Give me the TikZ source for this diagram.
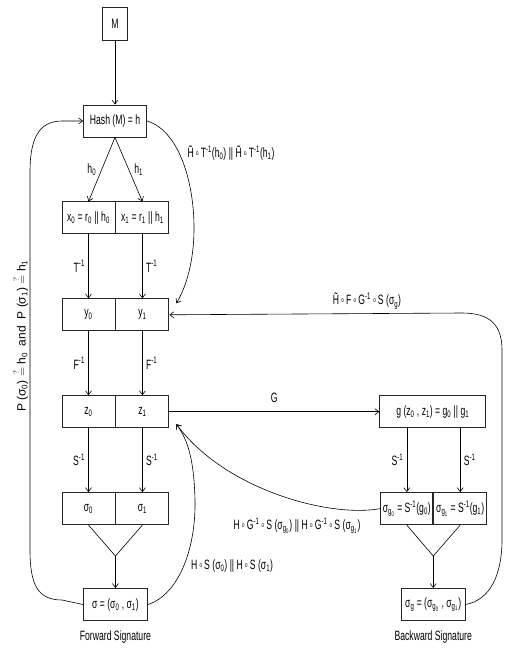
\documentclass[tikz,border=0pt]{standalone}
\usepackage{fontspec}
\usepackage{amsmath}
\setmainfont{Liberation Sans}[FakeStretch=0.64]
\newfontfamily\rotfont{Liberation Sans}
\usetikzlibrary{arrows.meta,positioning}

\newcommand\Ht{H^^^^0303}
\newcommand\cmp{\,\raisebox{.3ex}{\scriptsize o}\,}
\newcommand\inv{\textsuperscript{-1}}
\newcommand\sub[1]{\textsubscript{#1}}

\begin{document}
\begin{tikzpicture}[
		x=1pt, y=-1pt,
		node distance=64pt,
		font=\fontsize{13.5}{15}\selectfont,
		arrow/.style={-{Straight Barb[length=4pt,width=6pt]}, line width=0.6pt},
		link/.style={line width=0.6pt},
		block/.style={draw=black!85, line width=0.9pt, minimum height=32pt, minimum width=53pt, inner sep=1pt, align=center},
	]
		\useasboundingbox (0,0) rectangle (519,655);

		% forward signature
		\node (hash) [block, minimum width=63pt] at (115,121) {Hash (M) = h};
		\node (msg) [block, minimum width=25pt, minimum height=33pt, above=of hash] {M};
		\node (x0) [block, below=of hash, xshift=-26.5pt] {x\sub0 = r\sub0 || h\sub0};
		\node (x1) [block, right=0pt of x0] {x\sub1 = r\sub1 || h\sub1};
		\node (y0) [block, below=of x0] {y\sub0};
		\node (y1) [block, below=of x1] {y\sub1};
		\node (z0) [block, below=of y0] {z\sub0};
		\node (z1) [block, below=of y1] {z\sub1};
		\node (s0) [block, below=of z0] {σ\sub0};
		\node (s1) [block, below=of z1] {σ\sub1};
		\coordinate[below=31pt of s0.south east] (fvee);
		\node (sig) [block, minimum width=64pt, below=32pt of fvee] {σ = (σ\sub0 , σ\sub1)};
		\node (fwd) [below=6pt of sig] {Forward Signature};

		% backward signature
		\node (g) [block, minimum width=106pt, right=210pt of z1] {g (z\sub0 , z\sub1) = g\sub0 || g\sub1};
		\node (sg0) [block, minimum width=52pt, below=of g, xshift=-26pt] {σ\sub{g\sub0} = S\inv(g\sub0)};
		\node (sg1) [block, right=0pt of sg0] {σ\sub{g\sub1} = S\inv(g\sub1)};
		\coordinate[below=31pt of sg0.south east] (bvee);
		\node (sgsig) [block, minimum width=64pt, below=32pt of bvee] {σ\sub g = (σ\sub{g\sub0} , σ\sub{g\sub1})};
		\node (bwd) [below=6pt of sgsig] {Backward Signature};

		\draw[arrow] (msg) -- (hash);
		\draw[arrow] (hash.south) -- node[left=2pt] {h\sub0} (x0.north);
		\draw[arrow] (hash.south) -- node[right=2pt] {h\sub1} (x1.north);
		\draw[arrow] (x0) -- node[left] {T\inv} (y0);
		\draw[arrow] (x1) -- node[right] {T\inv} (y1);
		\draw[arrow] (y0) -- node[left] {F\inv} (z0);
		\draw[arrow] (y1) -- node[right] {F\inv} (z1);
		\draw[arrow] (z0) -- node[left] {S\inv} (s0);
		\draw[arrow] (z1) -- node[right] {S\inv} (s1);
		\draw[link] (s0.south) -- (fvee) -- (s1.south);
		\draw[arrow] (fvee) -- (sig);

		\draw[arrow] (z1) -- node[above=5pt] {G} (g);
		\draw[arrow] (g.south -| sg0) -- node[left] {S\inv} (sg0);
		\draw[arrow] (g.south -| sg1) -- node[right] {S\inv} (sg1);
		\draw[link] (sg0.south) -- (bvee) -- (sg1.south);
		\draw[arrow] (bvee) -- (sgsig);

		% loops
		\draw[arrow] (sig.west) -- (62,600) .. controls (38,600) and (30,585) .. (30,550) -- (30,172) .. controls (30,140) and (38,121) .. (62,121) -- (hash.west);
		\draw[arrow] (hash.east) .. controls (178,130) and (194,180) .. (194,228) .. controls (194,262) and (186,287) .. ([shift={(7,5)}]y1.north east);
		\draw[arrow] (sig.east) .. controls (178,595) and (196,550) .. (195,500) .. controls (194,460) and (188,440) .. ([shift={(7,-4)}]z1.south east);
		\draw[arrow] (sg0.west) .. controls (330,518) and (225,490) .. ([shift={(7,-4)}]z1.south east);
		\draw[arrow] (sgsig.east) .. controls (490,600) and (502,575) .. (502,540) -- (502,350) .. controls (502,325) and (490,313) .. (462,313) -- (y1.east);

		\node (lhash) at (231,153) {\Ht\cmp T\inv(h\sub0) || \Ht\cmp T\inv(h\sub1)};
		\node (lback) at (367,301) {\Ht\cmp F\cmp G\inv\cmp S (σ\sub g)};
		\node (lgsig) at (297,526) {H\cmp G\inv\cmp S (σ\sub{g\sub0}) || H\cmp G\inv\cmp S (σ\sub{g\sub1})};
		\node (lsig) at (232,566) {H\cmp S (σ\sub0) || H\cmp S (σ\sub1)};
		\node (check) [rotate=90, font=\rotfont\fontsize{12}{14}\selectfont] at (20,336) {P (σ\sub0) $\stackrel{?}{=}$ h\sub0 \ and \ P (σ\sub1) $\stackrel{?}{=}$ h\sub1};
	\end{tikzpicture}
\end{document}
